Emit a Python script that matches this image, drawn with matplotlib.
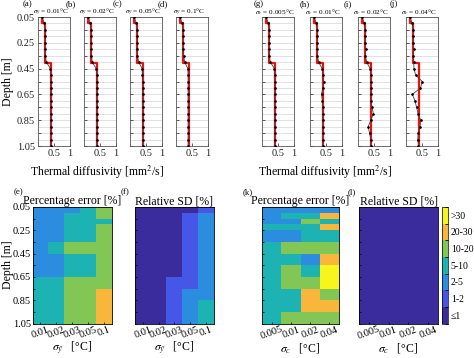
import numpy as np
import matplotlib.pyplot as plt
from matplotlib.colors import ListedColormap, BoundaryNorm

W, H = 474, 358

# depth axis of the profiles and of the error maps
depth_pts = [0.05, 0.10, 0.15, 0.20, 0.25, 0.30, 0.35, 0.40, 0.45, 0.50, 0.55,
             0.60, 0.65, 0.70, 0.75, 0.80, 0.85, 0.90, 0.95, 1.00, 1.05]
depth_edges = [0.05, 0.10, 0.15, 0.20, 0.25, 0.35, 0.45, 0.55, 0.65, 0.75,
               0.85, 0.95, 1.05]

# true diffusivity profile (step)
true_depth = [0.05, 0.10, 0.10, 0.41, 0.41, 1.05]
true_kappa = [0.13, 0.13, 0.23, 0.23, 0.40, 0.40]

sigma_y_labels = ['0.01', '0.02', '0.05', '0.1']
sigma_c_labels = ['0.005', '0.01', '0.02', '0.04']

est_a = [0.13, 0.20, 0.23, 0.23, 0.23, 0.23, 0.23, 0.26, 0.39, 0.40, 0.40,
         0.40, 0.40, 0.40, 0.40, 0.40, 0.40, 0.40, 0.40, 0.40, 0.40]
est_b = [0.13, 0.20, 0.23, 0.23, 0.23, 0.23, 0.23, 0.26, 0.38, 0.40, 0.40,
         0.40, 0.40, 0.40, 0.40, 0.40, 0.40, 0.40, 0.40, 0.40, 0.40]
est_c = [0.13, 0.20, 0.23, 0.23, 0.23, 0.23, 0.23, 0.27, 0.38, 0.39, 0.40,
         0.40, 0.40, 0.40, 0.40, 0.40, 0.40, 0.40, 0.40, 0.40, 0.40]
est_d = [0.13, 0.19, 0.22, 0.23, 0.23, 0.23, 0.24, 0.27, 0.37, 0.38, 0.38,
         0.38, 0.38, 0.38, 0.38, 0.38, 0.38, 0.38, 0.38, 0.38, 0.38]
est_g = [0.13, 0.20, 0.23, 0.23, 0.23, 0.23, 0.23, 0.26, 0.39, 0.40, 0.40,
         0.40, 0.40, 0.40, 0.40, 0.40, 0.40, 0.40, 0.40, 0.40, 0.40]
est_h = [0.13, 0.20, 0.23, 0.23, 0.23, 0.23, 0.23, 0.27, 0.38, 0.40, 0.43,
         0.40, 0.36, 0.39, 0.40, 0.40, 0.41, 0.40, 0.40, 0.40, 0.40]
est_i = [0.13, 0.20, 0.23, 0.22, 0.23, 0.24, 0.23, 0.27, 0.38, 0.40, 0.40,
         0.41, 0.40, 0.40, 0.44, 0.48, 0.40, 0.32, 0.36, 0.40, 0.40]
est_j = [0.13, 0.19, 0.23, 0.22, 0.23, 0.24, 0.23, 0.24, 0.25, 0.30, 0.51,
         0.45, 0.20, 0.28, 0.33, 0.38, 0.46, 0.44, 0.38, 0.37, 0.39]

# error classes: 0 '<=1', 1 '1-2', 2 '2-5', 3 '5-10', 4 '10-20', 5 '20-30', 6 '>30'
class_labels = ['≤1', '1-2', '2-5', '5-10', '10-20', '20-30', '>30']
class_colors = ['#3a2c9c', '#4656e6', '#2b8ce0', '#1db3b3', '#82c656',
                '#f8b73a', '#f6f51c']

sigma_y_cols = ['0.01', '0.02', '0.03', '0.05', '0.1']
err_y = [[2, 2, 2, 3, 4],
         [2, 2, 3, 3, 4],
         [2, 2, 3, 3, 3],
         [2, 2, 3, 3, 4],
         [2, 2, 3, 3, 4],
         [2, 3, 4, 4, 4],
         [2, 2, 3, 3, 4],
         [2, 2, 3, 3, 4],
         [3, 3, 4, 4, 4],
         [3, 3, 4, 4, 5],
         [3, 3, 4, 4, 5],
         [3, 3, 4, 4, 5]]
sd_y = [[0, 0, 0, 0, 1],
        [0, 0, 0, 1, 2],
        [0, 0, 0, 1, 2],
        [0, 0, 0, 1, 2],
        [0, 0, 0, 1, 2],
        [0, 0, 0, 1, 2],
        [0, 0, 0, 1, 2],
        [0, 0, 0, 1, 2],
        [0, 0, 1, 1, 2],
        [0, 0, 1, 2, 2],
        [0, 0, 1, 2, 3],
        [0, 0, 1, 2, 3]]

sigma_c_cols = ['0.005', '0.01', '0.02', '0.04']
err_c = [[2, 2, 2, 2],
         [2, 3, 3, 5],
         [2, 2, 4, 3],
         [3, 3, 3, 5],
         [2, 2, 3, 3],
         [3, 4, 4, 4],
         [3, 3, 2, 5],
         [3, 4, 3, 6],
         [3, 4, 4, 6],
         [3, 3, 5, 4],
         [3, 3, 5, 5],
         [3, 4, 4, 4]]
sd_c = [[0, 0, 0, 0] for _ in range(12)]

plt.rcParams['font.family'] = 'Liberation Serif'
plt.rcParams['mathtext.fontset'] = 'stix'
plt.rcParams['axes.linewidth'] = 0.6
plt.rcParams['xtick.direction'] = 'in'
plt.rcParams['ytick.direction'] = 'in'
plt.rcParams['xtick.major.size'] = 2
plt.rcParams['ytick.major.size'] = 2
plt.rcParams['xtick.major.width'] = 0.5
plt.rcParams['ytick.major.width'] = 0.5

cmap = ListedColormap(class_colors)
norm = BoundaryNorm(np.arange(-0.5, 7.5, 1), cmap.N)

depth_ticklabels = ['0.05', '', '0.25', '', '0.45', '', '0.65', '', '0.85',
                    '', '1.05']


def px_axes(fig, x0, y0, x1, y1):
    return fig.add_axes([x0 / W, 1 - y1 / H, (x1 - x0) / W, (y1 - y0) / H])


def profile_panel(fig, x0, est, label, lx, note, ylabels=False):
    ax = px_axes(fig, x0, 17, x0 + 32, 146)
    for d in np.arange(0.05, 1.06, 0.05):
        ax.axhline(d, color='#d4d4d4', lw=0.5, zorder=0)
    ax.plot(true_kappa, true_depth, color='#ee1111', lw=1.6, zorder=2)
    ax.plot(est, depth_pts, color='#444444', lw=0.6, marker='.', ms=1.8,
            mfc='black', mec='black', zorder=3)
    ax.set_xlim(0, 1)
    ax.set_ylim(1.05, 0.05)
    ax.set_xticks([0.5, 1])
    ax.set_xticklabels(['0.5', '1'], fontsize=7.5)
    ax.set_yticks(np.arange(0.05, 1.06, 0.1))
    if ylabels:
        ax.set_yticklabels(depth_ticklabels, fontsize=7.5)
        fig.text(8 / W, 1 - 81.5 / H, 'Depth [m]', fontsize=8.5,
                 rotation=90, ha='center', va='center')
    else:
        ax.set_yticklabels([])
    ax.tick_params(pad=2, colors='#222222')
    for s in ax.spines.values():
        s.set_color('#555555')
    fig.text(lx / W, 1 - 4 / H, label, fontsize=6.3, ha='center', va='center')
    fig.text((x0 + 13) / W, 1 - 12.5 / H, note, fontsize=5.2, ha='center',
             va='center')
    return ax


def map_panel(fig, x0, x1, data, cols, title, label, lx, ylabels=False):
    ax = px_axes(fig, x0, 207, x1, 323.5)
    xe = np.arange(len(cols) + 1)
    ax.pcolormesh(xe, depth_edges, np.array(data), cmap=cmap, norm=norm)
    ax.set_xlim(0, len(cols))
    ax.set_ylim(1.05, 0.05)
    ax.set_xticks(np.arange(len(cols)) + 0.5)
    ax.set_xticklabels(cols, fontsize=7.5, rotation=20)
    ax.set_yticks(np.arange(0.05, 1.06, 0.1))
    if ylabels:
        ax.set_yticklabels(depth_ticklabels, fontsize=7.5)
        fig.text(8 / W, 1 - 265 / H, 'Depth [m]', fontsize=8.5,
                 rotation=90, ha='center', va='center')
    else:
        ax.set_yticklabels([])
    ax.tick_params(pad=1, length=1.5)
    ax.set_title(title, fontsize=8.5, pad=2)
    fig.text(lx / W, 1 - 192 / H, label, fontsize=6.3, ha='center',
             va='center')
    return ax


if __name__ == '__main__':
    fig = plt.figure(figsize=(W / 100, H / 100), dpi=100)

    note_y = [r'$\sigma_{\tilde{y}}$ = %s°C' % s for s in sigma_y_labels]
    note_c = [r'$\sigma_{c}$ = %s°C' % s for s in sigma_c_labels]

    profile_panel(fig, 38, est_a, '(a)', 27, note_y[0], ylabels=True)
    profile_panel(fig, 84, est_b, '(b)', 71, note_y[1])
    profile_panel(fig, 130, est_c, '(c)', 117, note_y[2])
    profile_panel(fig, 176, est_d, '(d)', 163, note_y[3])
    profile_panel(fig, 262, est_g, '(g)', 259, note_c[0])
    profile_panel(fig, 310, est_h, '(h)', 305, note_c[1])
    profile_panel(fig, 358, est_i, '(i)', 348, note_c[2])
    profile_panel(fig, 406, est_j, '(j)', 394, note_c[3])

    fig.text(97 / W, 1 - 172 / H, 'Thermal diffusivity [mm$^2$/s]',
             fontsize=8.5, ha='center', va='center')
    fig.text(325 / W, 1 - 172 / H, 'Thermal diffusivity [mm$^2$/s]',
             fontsize=8.5, ha='center', va='center')

    ax_e = map_panel(fig, 32.5, 111.5, err_y, sigma_y_cols,
                     'Percentage error [%]', '(e)', 18, ylabels=True)
    ax_f = map_panel(fig, 135, 213.5, sd_y, sigma_y_cols,
                     'Relative SD [%]', '(f)', 125)
    ax_k = map_panel(fig, 262, 339, err_c, sigma_c_cols,
                     'Percentage error [%]', '(k)', 248)
    ax_l = map_panel(fig, 359, 438, sd_c, sigma_c_cols,
                     'Relative SD [%]', '(l)', 352)
    for ax in (ax_e, ax_f):
        ax.set_xlabel(r'$\sigma_{\tilde{y}}$   [°C]', fontsize=8.5, labelpad=0)
    for ax in (ax_k, ax_l):
        ax.set_xlabel(r'$\sigma_{c}$   [°C]', fontsize=8.5, labelpad=0)

    cax = px_axes(fig, 442, 207, 448, 323.5)
    sm = plt.cm.ScalarMappable(cmap=cmap, norm=norm)
    cb = fig.colorbar(sm, cax=cax, ticks=np.arange(7))
    cb.ax.set_yticklabels(class_labels, fontsize=7)
    cb.ax.tick_params(length=0, pad=2)
    cb.outline.set_linewidth(0.5)

    fig.savefig('out.png', dpi=100)
    plt.close()
